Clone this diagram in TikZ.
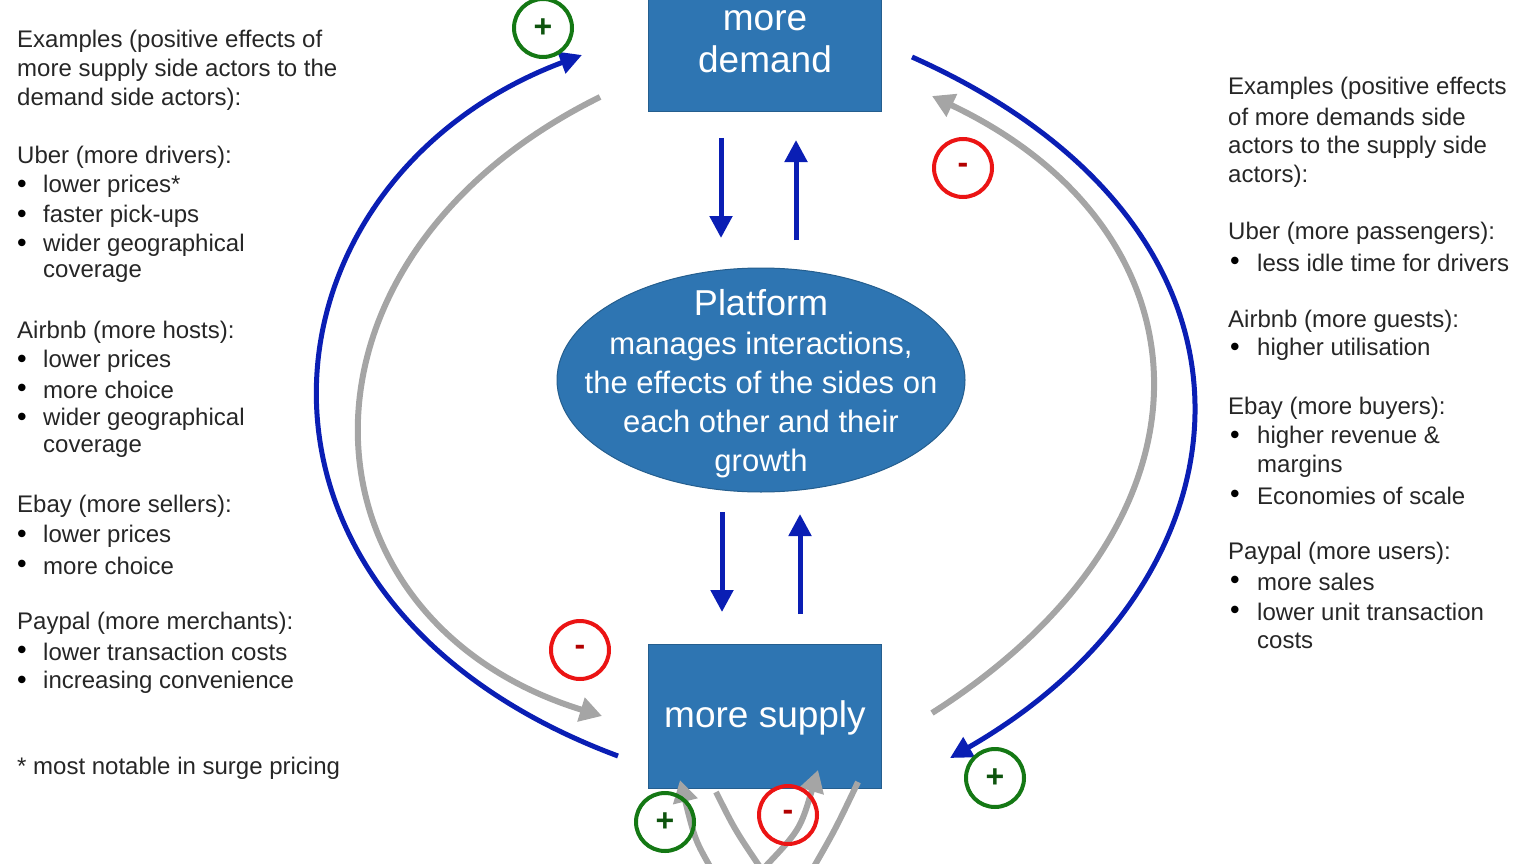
\documentclass[tikz,border=0pt]{standalone}
\usepackage{fontspec}
\setmainfont{Liberation Sans}
\usetikzlibrary{arrows.meta,shapes.geometric}
\definecolor{boxblue}{RGB}{46,117,178}
\definecolor{arrblue}{RGB}{10,30,180}
\definecolor{arrgray}{RGB}{165,165,165}
\definecolor{pgreen}{RGB}{20,120,20}
\definecolor{mred}{RGB}{235,20,20}
\tikzset{
 txt/.style={anchor=west,inner sep=0pt,font=\fontsize{24}{24}\selectfont,text=black!85},
 bul/.style={anchor=center,inner sep=0pt,font=\fontsize{26}{26}\selectfont\bfseries},
 bluebox/.style={draw=boxblue!80!black,fill=boxblue,text=white,inner sep=0pt,line width=1pt},
 barr/.style={draw=arrblue,line width=5pt,-{Triangle[length=22pt,width=22pt]}},
 garr/.style={draw=arrgray,line width=6pt,-{Triangle[length=22pt,width=24pt]}},
 gline/.style={draw=arrgray,line width=6pt},
 pluscirc/.style={circle,draw=pgreen,line width=4pt,minimum size=58pt,inner sep=0pt,text=pgreen!70!black,font=\fontsize{32}{32}\selectfont\bfseries},
 minuscirc/.style={circle,draw=mred,line width=4pt,minimum size=58pt,inner sep=0pt,text=red!70!black,font=\fontsize{32}{32}\selectfont\bfseries},
}
\begin{document}
\begin{tikzpicture}[x=1pt,y=-1pt]
\useasboundingbox (0,0) rectangle (1536,864);
% boxes
\node[bluebox,minimum width=233pt,minimum height=125pt,anchor=north west] (dem) at (648,-14) {};
\node[text=white,align=center,font=\fontsize{37}{42}\selectfont] (demt) at (765,42) {more\\demand};
\node[bluebox,minimum width=233pt,minimum height=144pt,anchor=north west] (sup) at (648,644) {};
\node[text=white,font=\fontsize{37}{40}\selectfont] (supt) at (765,718) {more supply};
\node[ellipse,fill=boxblue,draw=boxblue!80!black,line width=1pt,minimum width=408pt,minimum height=224pt] (plat) at (761,380) {};
\node[text=white,align=center,font=\fontsize{31}{39}\selectfont] (platt) at (761,384) {{\fontsize{36}{39}\selectfont Platform}\\manages interactions,\\the effects of the sides on\\each other and their\\growth};
% vertical arrows
\coordinate (a1) at (721,138); \coordinate (a2) at (721,238);
\coordinate (a3) at (796,240); \coordinate (a4) at (796,140);
\coordinate (a5) at (722,512); \coordinate (a6) at (722,612);
\coordinate (a7) at (800,614); \coordinate (a8) at (800,514);
\draw[barr] (a1) -- (a2);
\draw[barr] (a3) -- (a4);
\draw[barr] (a5) -- (a6);
\draw[barr] (a7) -- (a8);
% big loops
\coordinate (lb1) at (618,756); \coordinate (lb2) at (582,55);
\coordinate (lg1) at (600,97); \coordinate (lg2) at (602,716);
\coordinate (rb1) at (912,57); \coordinate (rb2) at (950,758);
\coordinate (rg1) at (932,713); \coordinate (rg2) at (932,96);
\draw[barr] (lb1) .. controls (200,600) and (250,180) .. (lb2);
\draw[garr] (lg1) .. controls (270,260) and (290,620) .. (lg2);
\draw[barr] (rb1) .. controls (1300,230) and (1260,580) .. (rb2);
\draw[garr] (rg1) .. controls (1235,520) and (1215,230) .. (rg2);
% bottom loops
\coordinate (b1) at (712,870); \coordinate (b2) at (680,780);
\coordinate (b3) at (716,792); \coordinate (b4) at (762,870);
\coordinate (b5) at (762,870); \coordinate (b6) at (818,770);
\coordinate (b7) at (858,782); \coordinate (b8) at (812,870);
\draw[garr] (b1) .. controls (695,840) .. (b2);
\draw[gline] (b3) .. controls (735,830) .. (b4);
\draw[garr] (b5) .. controls (800,830) .. (b6);
\draw[gline] (b7) .. controls (835,830) .. (b8);
% circles
\node[pluscirc] (c1) at (543,28) {+};
\node[minuscirc] (c2) at (963,168) {-};
\node[minuscirc] (c3) at (580,650) {-};
\node[pluscirc] (c4) at (995,778) {+};
\node[pluscirc] (c5) at (665,822) {+};
\node[minuscirc] (c6) at (788,815) {-};
% left text
\node[txt] (l1) at (17,41) {Examples (positive effects of};
\node[txt] (l2) at (17,70) {more supply side actors to the};
\node[txt] (l3) at (17,99) {demand side actors):};
\node[txt] (l4) at (17,157) {Uber (more drivers):};
\node[bul] (lb4a) at (22,186) {•}; \node[txt] (l5) at (43,186) {lower prices*};
\node[bul] (lb5a) at (22,216) {•}; \node[txt] (l6) at (43,216) {faster pick-ups};
\node[bul] (lb6a) at (22,245) {•}; \node[txt] (l7) at (43,245) {wider geographical};
\node[txt] (l8) at (43,274) {coverage};
\node[txt] (l9) at (17,332) {Airbnb (more hosts):};
\node[bul] (lb9a) at (22,361) {•}; \node[txt] (l10) at (43,361) {lower prices};
\node[bul] (lb10a) at (22,390) {•}; \node[txt] (l11) at (43,390) {more choice};
\node[bul] (lb11a) at (22,419) {•}; \node[txt] (l12) at (43,419) {wider geographical};
\node[txt] (l13) at (43,449) {coverage};
\node[txt] (l14) at (17,506) {Ebay (more sellers):};
\node[bul] (lb14a) at (22,536) {•}; \node[txt] (l15) at (43,536) {lower prices};
\node[bul] (lb15a) at (22,566) {•}; \node[txt] (l16) at (43,566) {more choice};
\node[txt] (l17) at (17,623) {Paypal (more merchants):};
\node[bul] (lb17a) at (22,652) {•}; \node[txt] (l18) at (43,652) {lower transaction costs};
\node[bul] (lb18a) at (22,682) {•}; \node[txt] (l19) at (43,682) {increasing convenience};
\node[txt] (l20) at (17,768) {* most notable in surge pricing};
% right text
\node[txt] (r1) at (1228,88) {Examples (positive effects};
\node[txt] (r2) at (1228,117) {of more demands side};
\node[txt] (r3) at (1228,147) {actors to the supply side};
\node[txt] (r4) at (1228,176) {actors):};
\node[txt] (r5) at (1228,233) {Uber (more passengers):};
\node[bul] (rb5a) at (1235,263) {•}; \node[txt] (r6) at (1257,263) {less idle time for drivers};
\node[txt] (r7) at (1228,321) {Airbnb (more guests):};
\node[bul] (rb7a) at (1235,349) {•}; \node[txt] (r8) at (1257,349) {higher utilisation};
\node[txt] (r9) at (1228,408) {Ebay (more buyers):};
\node[bul] (rb9a) at (1235,437) {•}; \node[txt] (r10) at (1257,437) {higher revenue \&};
\node[txt] (r11) at (1257,466) {margins};
\node[bul] (rb11a) at (1235,496) {•}; \node[txt] (r12) at (1257,496) {Economies of scale};
\node[txt] (r13) at (1228,553) {Paypal (more users):};
\node[bul] (rb13a) at (1235,582) {•}; \node[txt] (r14) at (1257,582) {more sales};
\node[bul] (rb14a) at (1235,612) {•}; \node[txt] (r15) at (1257,612) {lower unit transaction};
\node[txt] (r16) at (1257,641) {costs};
\end{tikzpicture}
\end{document}
